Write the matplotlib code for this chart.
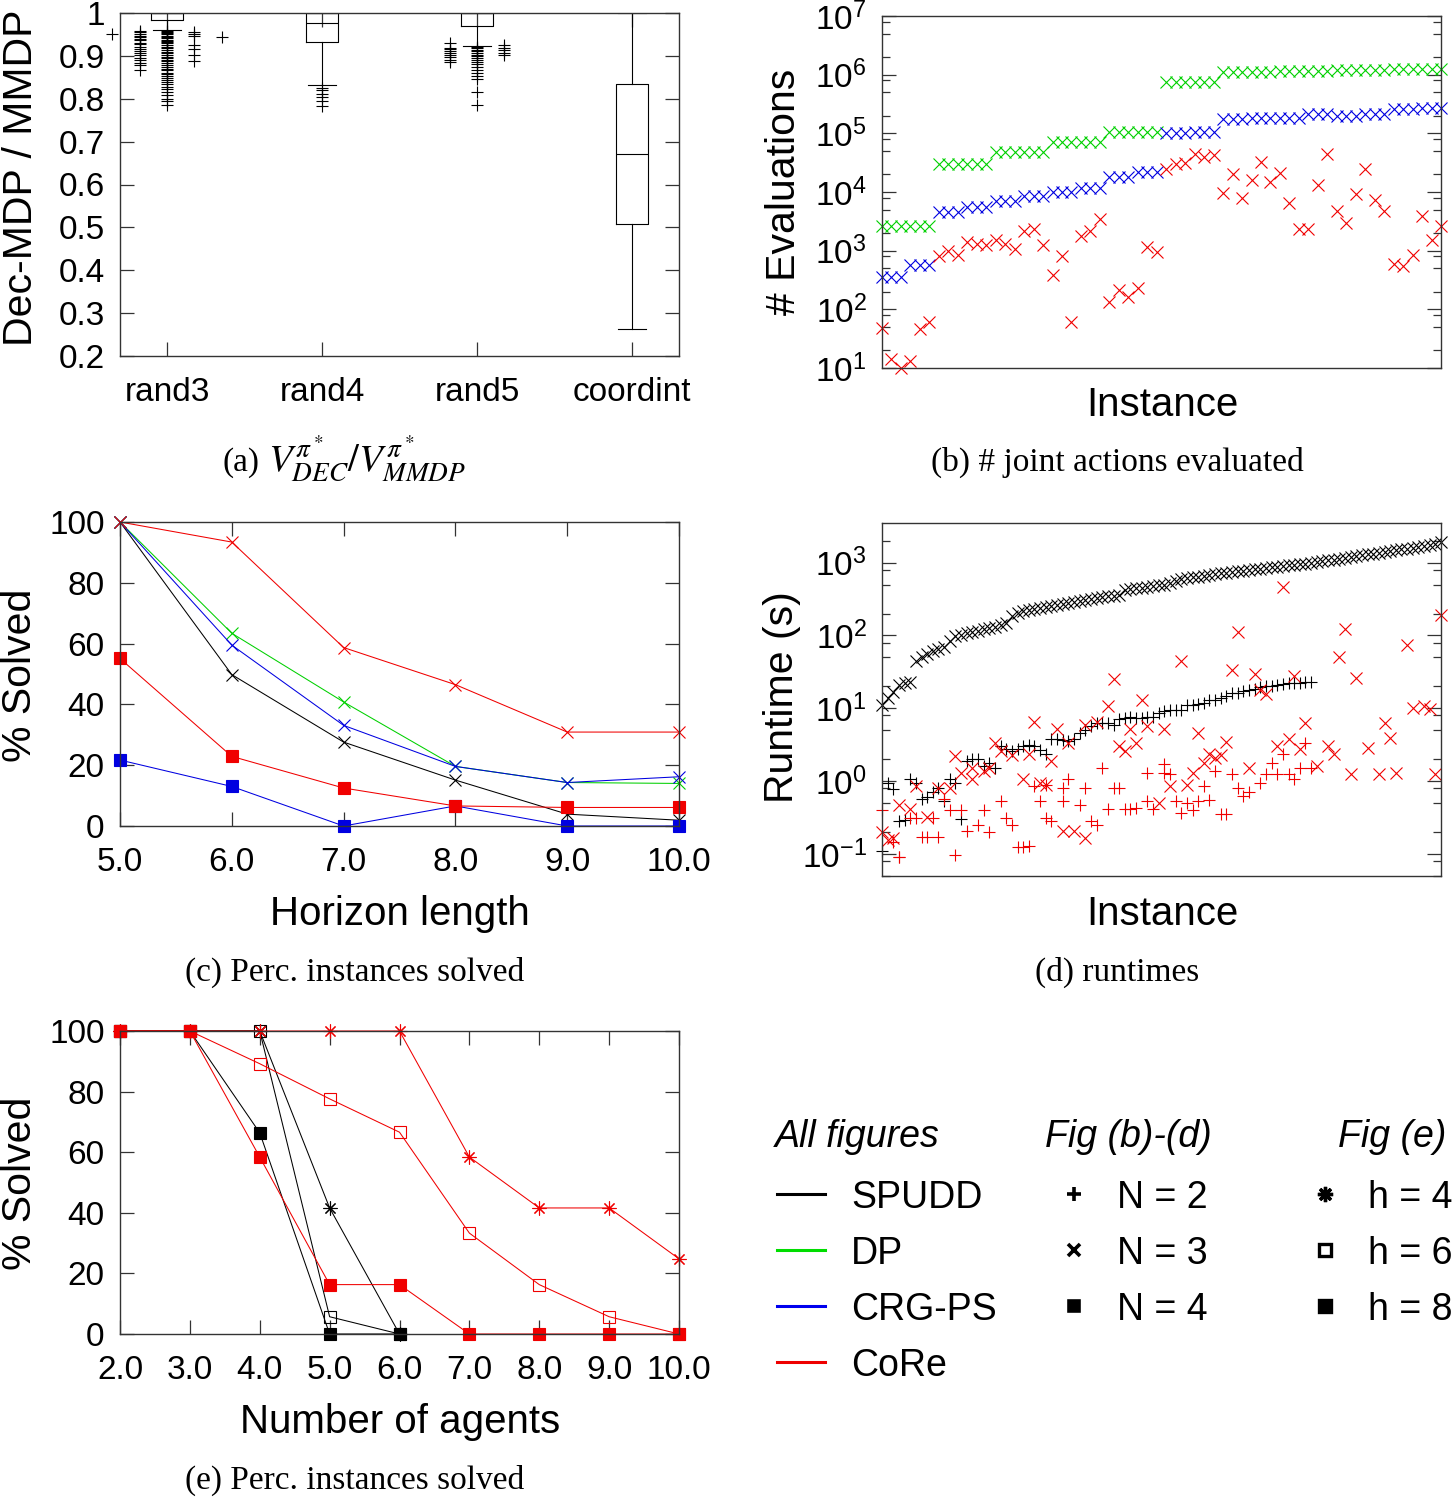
import numpy as np
import matplotlib
matplotlib.use('Agg')
import matplotlib.pyplot as plt
from matplotlib.ticker import FixedLocator, FixedFormatter, LogLocator, NullFormatter, FuncFormatter
from matplotlib.patches import Rectangle

W, H = 1454, 1497
plt.rcParams['font.family'] = ['Liberation Sans', 'DejaVu Sans']

# ---------------- data ----------------
# (a) ratio Dec-MDP / MMDP, box statistics per domain
box_names = ['rand3', 'rand4', 'rand5', 'coordint']
box_q1 = [0.983, 0.933, 0.970, 0.509]
box_med = [1.0, 0.977, 1.0, 0.671]
box_q3 = [1.0, 1.0, 1.0, 0.834]
box_wlo = [0.960, 0.832, 0.923, 0.262]
box_whi = [1.0, 1.0, 1.0, 1.0]
# outliers: (box, column, values)
out_box = [0, 0, 0, 0, 0, 1, 2, 2, 2]
out_col = [-2, -1, 0, 1, 2, 0, -1, 0, 1]
out_vals = [
    [0.950],
    [0.958, 0.955, 0.951, 0.947, 0.944, 0.940, 0.936, 0.931, 0.927, 0.921,
     0.917, 0.912, 0.906, 0.901, 0.896, 0.890, 0.884, 0.878, 0.866],
    [0.958, 0.955, 0.953, 0.950, 0.947, 0.945, 0.942, 0.938, 0.935, 0.932,
     0.929, 0.925, 0.921, 0.918, 0.914, 0.910, 0.906, 0.902, 0.898, 0.895,
     0.891, 0.887, 0.883, 0.879, 0.875, 0.870, 0.866, 0.861, 0.857, 0.852,
     0.848, 0.843, 0.838, 0.834, 0.828, 0.822, 0.815, 0.808, 0.800, 0.795, 0.786],
    [0.955, 0.951, 0.947, 0.926, 0.915, 0.903, 0.889],
    [0.944],
    [0.824, 0.821, 0.812, 0.803, 0.794, 0.783],
    [0.930, 0.919, 0.915, 0.911, 0.906, 0.902, 0.897, 0.891, 0.886],
    [0.921, 0.918, 0.914, 0.911, 0.907, 0.903, 0.899, 0.895, 0.890, 0.886,
     0.881, 0.875, 0.868, 0.861, 0.853, 0.846, 0.815, 0.785],
    [0.925, 0.919, 0.914, 0.906, 0.901],
]

# (b) joint actions evaluated, N = 3, per instance
b_dp = [2.6e3, 2.6e3, 2.6e3, 2.6e3, 2.6e3, 2.6e3,
        3.0e4, 3.0e4, 3.0e4, 3.0e4, 3.0e4, 3.0e4,
        4.8e4, 4.8e4, 4.8e4, 4.8e4, 4.8e4, 4.8e4,
        7.1e4, 7.1e4, 7.1e4, 7.1e4, 7.1e4, 7.1e4,
        1.05e5, 1.05e5, 1.05e5, 1.05e5, 1.05e5, 1.05e5,
        7.4e5, 7.4e5, 7.4e5, 7.4e5, 7.4e5, 7.4e5,
        1.1e6, 1.1e6, 1.1e6, 1.1e6, 1.1e6, 1.1e6,
        1.15e6, 1.15e6, 1.15e6, 1.15e6, 1.15e6, 1.15e6,
        1.2e6, 1.2e6, 1.2e6, 1.2e6, 1.2e6, 1.2e6,
        1.26e6, 1.26e6, 1.26e6, 1.26e6, 1.26e6, 1.26e6]
b_crg = [3.6e2, 3.6e2, 3.6e2, 5.7e2, 5.7e2, 5.7e2, 4.6e3, 4.6e3, 4.6e3,
         5.6e3, 5.6e3, 5.6e3, 6.9e3, 6.9e3, 6.9e3, 8.5e3, 8.5e3, 8.5e3,
         1.0e4, 1.0e4, 1.0e4, 1.18e4, 1.18e4, 1.18e4, 1.8e4, 1.8e4, 1.8e4,
         2.2e4, 2.2e4, 2.2e4, 1.0e5, 1.0e5, 1.0e5, 1.05e5, 1.05e5, 1.05e5,
         1.75e5, 1.75e5, 1.75e5, 1.8e5, 1.8e5, 1.8e5, 1.85e5, 1.85e5, 1.85e5,
         2.1e5, 2.1e5, 2.1e5, 1.95e5, 1.95e5, 1.95e5, 2.1e5, 2.1e5, 2.1e5,
         2.6e5, 2.6e5, 2.6e5, 2.7e5, 2.7e5, 2.7e5]
b_core = [48, 14, 10, 13, 46, 62, 800, 1000, 850, 1400,
          1300, 1240, 1550, 1300, 1050, 2200, 2300, 1240, 390, 820,
          62, 1800, 2200, 3500, 135, 215, 165, 230, 1150, 940,
          2.5e4, 3.0e4, 3.1e4, 4.5e4, 4.0e4, 4.2e4, 9.5e3, 2.0e4, 8.0e3, 1.6e4,
          3.2e4, 1.5e4, 2.1e4, 6.5e3, 2300, 2300, 1.3e4, 4.5e4, 4800, 3000,
          9300, 2.5e4, 7400, 4800, 600, 540, 850, 3900, 1550, 2600]

# (c) % solved vs horizon
c_h = [5, 6, 7, 8, 9, 10]
c_spudd_n3 = [100, 49.8, 27.6, 15.1, 3.9, 1.9]
c_dp_n3 = [100, 63.4, 40.8, 19.6, 14.3, 14.0]
c_crg_n3 = [100, 59.5, 33.1, 19.6, 14.3, 16.2]
c_core_n3 = [100, 93.4, 58.7, 46.5, 30.9, 30.9]
c_crg_n4 = [21.7, 13.0, 0, 6.6, 0, 0]
c_core_n4 = [55.1, 22.9, 12.5, 6.6, 6.1, 6.1]

# (d) runtimes per instance
d_spudd_n3 = [11, 14, 17, 21, 22, 23, 45, 50, 55, 62,
              66, 69, 85, 98, 103, 108, 112, 116, 121, 127,
              132, 140, 150, 185, 205, 215, 222, 230, 238, 245,
              252, 262, 270, 280, 290, 300, 308, 316, 325, 335,
              345, 352, 365, 420, 435, 445, 455, 465, 478, 490,
              500, 525, 560, 600, 620, 630, 645, 660, 680, 700,
              715, 730, 745, 760, 775, 790, 810, 830, 850, 865,
              880, 900, 915, 935, 950, 965, 985, 1010, 1040, 1070,
              1100, 1130, 1160, 1190, 1230, 1270, 1300, 1330, 1370, 1410,
              1450, 1480, 1520, 1560, 1600, 1640, 1690, 1740, 1800, 1900]
d_spudd_n2 = [0.11, 0.95, 0.79, 0.28, 0.29, 1.07, 0.95, 0.57, 0.6, 0.7,
              0.8, 0.53, 1.07, 0.95, 0.3, 1.9, 2.0, 2.0, 1.6, 1.8,
              1.5, 3.0, 2.8, 2.6, 2.8, 3.0, 3.1, 3.0, 2.7, 2.4,
              3.8, 3.8, 3.7, 3.6, 3.8, 4.6, 5.0, 5.8, 6.2, 6.2,
              6.2, 6.0, 7.1, 7.4, 7.7, 7.4, 7.4, 7.6, 7.6, 8.5,
              9.2, 9.6, 9.6, 9.6, 11, 11, 11.5, 12, 13.2, 13.2,
              14, 15, 16, 16.5, 17.2, 18, 18.5, 19.5, 20, 20.5,
              21, 21.5, 22, 22.5, 22.5, 23, 23]
d_core_n3_inst = [0, 1, 2, 3, 5, 6, 8, 10, 12, 13, 14, 16, 16, 18, 19, 20, 21, 23,
                  25, 26, 27, 28, 29, 30, 31, 32, 33, 34, 36, 36, 38, 40, 41, 42,
                  43, 44, 45, 46, 47, 49, 50, 51, 53, 54, 55, 56, 57, 58, 59, 60,
                  61, 62, 63, 65, 66, 67, 68, 70, 71, 72, 73, 74, 75, 77, 79, 80,
                  81, 82, 83, 84, 86, 88, 89, 90, 91, 93, 94, 96, 97, 98, 99]
d_core_n3 = [0.2, 0.155, 0.165, 0.47, 0.42, 0.87, 0.32, 0.8, 0.8, 2.2, 1.3, 1.08, 1.5,
             1.4, 1.5, 3.3, 2.6, 2.3, 1.07, 2.4, 6.6, 0.95, 0.9, 1.9, 5.2, 0.21, 3.3,
             0.21, 0.166, 6.0, 6.6, 10.7, 25, 3.0, 2.6, 5.2, 3.3, 13.2, 5.8, 0.51,
             5.2, 0.87, 44, 0.9, 1.3, 4.6, 1.8, 2.4, 2.1, 2.3, 3.5, 34, 112, 1.5,
             30, 18, 15.5, 3.0, 460, 3.8, 28, 2.8, 6.3, 1.6, 3.0, 2.4, 51, 123,
             1.25, 26, 2.9, 1.25, 6.3, 3.9, 1.3, 74, 10, 10.7, 9.8, 1.25, 190]
d_core_n2_inst = [0, 2, 3, 3, 5, 6, 7, 8, 9, 10, 11, 12, 13, 14, 15, 17, 18, 19, 21,
                  22, 23, 24, 25, 26, 27, 28, 29, 29, 30, 32, 32, 33, 35, 36, 37,
                  38, 39, 40, 41, 42, 43, 44, 45, 47, 47, 48, 50, 50, 51, 52, 53,
                  54, 55, 56, 57, 58, 59, 60, 61, 62, 63, 64, 65, 67, 68, 69, 70,
                  71, 72, 73, 74, 75, 76]
d_core_n2 = [0.4, 0.145, 0.091, 0.091, 0.31, 0.31, 0.17, 0.17, 0.31, 0.17, 0.57, 0.4,
             0.098, 0.4, 0.21, 0.25, 0.4, 0.2, 0.54, 0.31, 0.25, 0.126, 0.126, 0.13,
             0.87, 0.54, 0.9, 0.31, 0.28, 0.81, 0.54, 1.07, 0.47, 0.81, 0.28, 0.25,
             1.5, 0.42, 0.8, 0.81, 0.42, 0.42, 0.43, 0.54, 1.3, 0.42, 1.7, 1.3,
             1.25, 0.54, 0.37, 0.5, 0.4, 0.54, 0.87, 0.56, 1.4, 0.36, 0.36, 1.25,
             0.8, 0.63, 0.7, 0.95, 1.25, 1.8, 1.25, 2.4, 1.25, 1.07, 1.5, 3.3, 1.5]

# (e) % solved vs number of agents
e_agents = [2, 3, 4, 5, 6, 7, 8, 9, 10]
e_core_h4 = [100, 100, 100, 100, 100, 58.4, 41.6, 41.6, 24.8]
e_core_h6 = [100, 100, 89.2, 77.6, 66.6, 33.3, 16.3, 5.7, 0]
e_core_h8 = [100, 100, 58.4, 16.3, 16.3, 0, 0, 0, 0]
e_spudd_agents = [2, 3, 4, 5, 6]
e_spudd_h4 = [100, 100, 100, 41.6, 0]
e_spudd_h6 = [100, 100, 100, 5.7, 0]
e_spudd_h8 = [100, 100, 66.4, 0, 0]

GREEN, BLUE, RED, BLACK = '#00d000', '#0000e0', '#f00000', '#000000'
STAR = (8, 2, 0)

# ---------------- figure ----------------
fig = plt.figure(figsize=(W / 100, H / 100), dpi=100)


def add_ax(l, t, r, b):
    return fig.add_axes([l / W, 1 - b / H, (r - l) / W, (b - t) / H])


def style(ax):
    for s in ax.spines.values():
        s.set_linewidth(1.0)
        s.set_color('#333333')
    ax.tick_params(which='both', direction='in', colors='#333333',
                   labelcolor='black', labelsize=24, width=0.9)
    ax.tick_params(which='major', length=10)
    ax.tick_params(which='minor', length=6)
    ax.tick_params(axis='y', which='both', left=True, right=True, pad=11)
    ax.tick_params(axis='x', which='both', bottom=True, top=True, pad=15)


def log_fmt(v, pos):
    return r'$\mathregular{10^{%d}}$' % int(round(np.log10(v)))


def ylabel(x, y, s, size=29.5):
    fig.text(x / W, 1 - y / H, s, rotation=90, ha='center', va='baseline',
             rotation_mode='anchor', fontsize=size)


def xlabel(x, y, s):
    fig.text(x / W, 1 - y / H, s, ha='center', va='baseline', fontsize=29)


def caption(x, y, s, ha='center', size=24):
    fig.text(x / W, 1 - y / H, s, ha=ha, va='baseline', fontsize=size,
             family='Liberation Serif', math_fontfamily='stix')


# (a) box plot
ax = add_ax(120, 13, 679, 356)
style(ax)
stats = []
for i in range(len(box_names)):
    stats.append(dict(med=box_med[i], q1=box_q1[i], q3=box_q3[i],
                      whislo=box_wlo[i], whishi=box_whi[i], fliers=[],
                      label=box_names[i]))
lp = dict(color='black', lw=0.8)
pos = [1, 2, 3, 4]
ax.bxp(stats, positions=pos, widths=0.205, capwidths=0.185, showfliers=False,
       boxprops=lp, medianprops=lp, whiskerprops=lp, capprops=lp)
for b, c, v in zip(out_box, out_col, out_vals):
    ax.plot(np.full(len(v), pos[b] + c * 0.176), v, ls='none', marker='+',
            ms=9, mew=0.8, color='black', clip_on=False)
ax.set_xlim(0.697, 4.303)
ax.set_ylim(0.2, 1.0)
ax.xaxis.set_major_locator(FixedLocator(pos))
ax.xaxis.set_major_formatter(FixedFormatter(box_names))
ax.yaxis.set_major_locator(FixedLocator([0.2, 0.3, 0.4, 0.5, 0.6, 0.7, 0.8, 0.9, 1.0]))
ax.yaxis.set_major_formatter(FixedFormatter(['0.2', '0.3', '0.4', '0.5', '0.6',
                                             '0.7', '0.8', '0.9', '1']))
ylabel(32, 178, 'Dec-MDP / MMDP', size=29.5)
caption(222, 471, '(a)', ha='left')
caption(268, 471, r'$V^{\pi^*}_{DEC}/V^{\pi^*}_{MMDP}$', ha='left', size=28)

# (b) evaluations
ax = add_ax(882, 16, 1441, 368)
style(ax)
inst_b = np.arange(len(b_dp))
ax.plot(inst_b, b_dp, ls='none', marker='x', ms=8.5, mew=0.8, color=GREEN, clip_on=False)
ax.plot(inst_b, b_crg, ls='none', marker='x', ms=8.5, mew=0.8, color=BLUE, clip_on=False)
ax.plot(inst_b, b_core, ls='none', marker='x', ms=8.5, mew=0.8, color=RED, clip_on=False)
ax.set_yscale('log')
ax.set_ylim(10, 1e7)
ax.set_xlim(0, len(b_dp) - 1)
ax.set_xticks([])
ax.yaxis.set_major_locator(LogLocator(base=10, subs=(1.0,), numticks=20))
ax.yaxis.set_minor_locator(LogLocator(base=10, subs=(2, 5, 8), numticks=20))
ax.yaxis.set_major_formatter(FuncFormatter(log_fmt))
ax.yaxis.set_minor_formatter(NullFormatter())
ylabel(795, 192, '# Evaluations')
xlabel(1162, 416, 'Instance')
caption(1117, 471, '(b) # joint actions evaluated')

# (c) % solved vs horizon
ax = add_ax(120, 522, 679, 826)
style(ax)
kw = dict(lw=0.75, ms=9, mew=0.8, clip_on=False)
ax.plot(c_h, c_spudd_n3, color=BLACK, marker='x', **kw)
ax.plot(c_h, c_dp_n3, color=GREEN, marker='x', **kw)
ax.plot(c_h, c_crg_n3, color=BLUE, marker='x', **kw)
ax.plot(c_h, c_crg_n4, color=BLUE, marker='s', **kw)
ax.plot(c_h, c_core_n4, color=RED, marker='s', **kw)
ax.plot(c_h, c_core_n3, color=RED, marker='x', **kw)
ax.set_xlim(5, 10)
ax.set_ylim(0, 100)
ax.set_xticks(c_h, ['5.0', '6.0', '7.0', '8.0', '9.0', '10.0'])
ax.set_yticks([0, 20, 40, 60, 80, 100])
ylabel(31, 675, '% Solved')
xlabel(400, 925, 'Horizon length')
caption(355, 981, '(c) Perc. instances solved')

# (d) runtimes
ax = add_ax(882, 523, 1441, 876)
style(ax)
mk = dict(ls='none', mew=0.8, clip_on=False)
ax.plot(np.arange(len(d_spudd_n3)), d_spudd_n3, marker='x', ms=8.5, color=BLACK, **mk)
ax.plot(np.arange(len(d_spudd_n2)), d_spudd_n2, marker='+', ms=9, color=BLACK, **mk)
ax.plot(d_core_n3_inst, d_core_n3, marker='x', ms=8.5, color=RED, **mk)
ax.plot(d_core_n2_inst, d_core_n2, marker='+', ms=9, color=RED, **mk)
ax.set_yscale('log')
ax.set_ylim(0.05, 3500)
ax.set_xlim(0, len(d_spudd_n3) - 1)
ax.set_xticks([])
ax.yaxis.set_major_locator(LogLocator(base=10, subs=(1.0,), numticks=20))
ax.yaxis.set_minor_locator(LogLocator(base=10, subs=(2, 5, 8), numticks=20))
ax.yaxis.set_major_formatter(FuncFormatter(log_fmt))
ax.yaxis.set_minor_formatter(NullFormatter())
ylabel(793, 697, 'Runtime (s)')
xlabel(1162, 925, 'Instance')
caption(1117, 981, '(d) runtimes')

# (e) % solved vs agents
ax = add_ax(120, 1031, 679, 1334)
style(ax)
kw = dict(lw=0.75, mew=0.8, clip_on=False)
ax.plot(e_spudd_agents, e_spudd_h4, color=BLACK, marker=STAR, ms=10, **kw)
ax.plot(e_spudd_agents, e_spudd_h6, color=BLACK, marker='s', ms=9, mfc='none', **kw)
ax.plot(e_spudd_agents, e_spudd_h8, color=BLACK, marker='s', ms=9, **kw)
ax.plot(e_agents, e_core_h4, color=RED, marker=STAR, ms=10, **kw)
ax.plot(e_agents, e_core_h6, color=RED, marker='s', ms=9, mfc='none', **kw)
ax.plot(e_agents, e_core_h8, color=RED, marker='s', ms=9, **kw)
ax.set_xlim(2, 10)
ax.set_ylim(0, 100)
ax.set_xticks(e_agents, ['2.0', '3.0', '4.0', '5.0', '6.0', '7.0', '8.0', '9.0', '10.0'])
ax.set_yticks([0, 20, 40, 60, 80, 100])
ylabel(31, 1183, '% Solved')
xlabel(400, 1433, 'Number of agents')
caption(355, 1489, '(e) Perc. instances solved')

# key
lax = fig.add_axes([0, 0, 1, 1], zorder=-1)
lax.set_xlim(0, W)
lax.set_ylim(H, 0)
lax.axis('off')
key_names = ['SPUDD', 'DP', 'CRG-PS', 'CoRe']
key_colors = [BLACK, '#00dd00', '#0000ee', '#ee0000']
n_labels = ['N = 2', 'N = 3', 'N = 4']
n_markers = ['+', 'x', 's']
h_labels = ['h = 4', 'h = 6', 'h = 8']
h_markers = [STAR, 's', 's']
rows = [1194, 1250, 1306, 1362]
for hx, ht in zip([775, 1045, 1338], ['All figures', 'Fig (b)-(d)', 'Fig (e)']):
    lax.text(hx, 1147, ht, fontsize=27, style='italic', va='baseline', ha='left')
clip = Rectangle((740, 1090), 714, 284, transform=lax.transData)
for y, name, col in zip(rows, key_names, key_colors):
    lax.plot([777, 825], [y, y], color=col, lw=2.2)
    t = lax.text(851, y + 14, name, fontsize=27, va='baseline', ha='left')
    t.set_clip_path(clip)
for i in range(3):
    y = rows[i]
    lax.plot([1074], [y], marker=n_markers[i], ms=[10, 8, 7][i], mew=2.6,
             color='black', ls='none')
    lax.text(1117, y + 14, n_labels[i], fontsize=27, va='baseline', ha='left')
    lax.plot([1325], [y], marker=h_markers[i], ms=[11, 8, 8][i], mew=2.4,
             color='black', ls='none', mfc=['black', 'none', 'black'][i])
    lax.text(1368, y + 14, h_labels[i], fontsize=27, va='baseline', ha='left')

fig.savefig('out.png', dpi=100)
